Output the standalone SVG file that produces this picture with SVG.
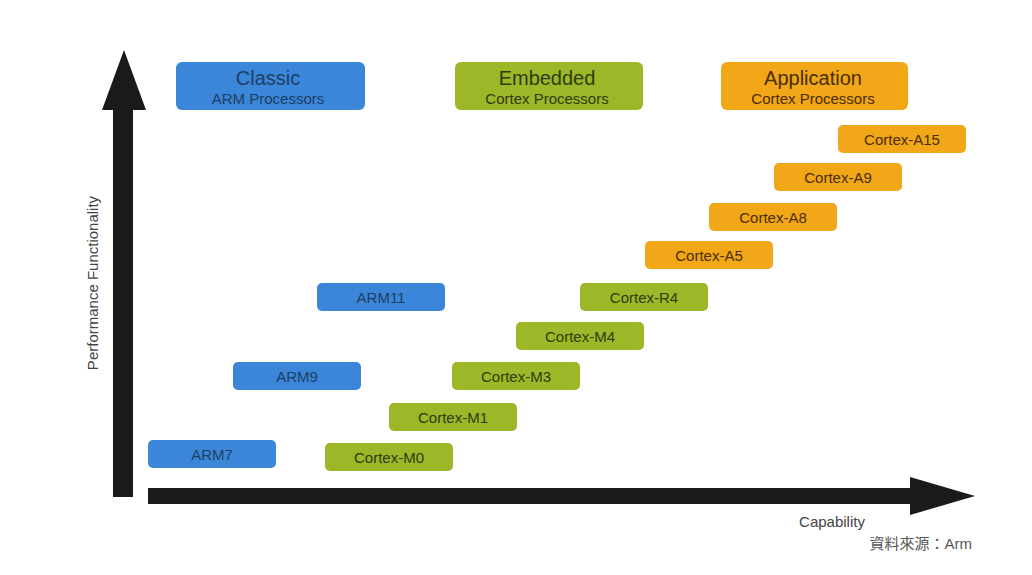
<svg xmlns="http://www.w3.org/2000/svg" width="1032" height="575" viewBox="0 0 1032 575">
<style>
.b{fill:#3b86d8}.g{fill:#9cb728}.o{fill:#f1a717}
text{font-family:"Liberation Sans",Arial,sans-serif;text-anchor:middle}
.t{font-size:15px}
.bt{fill:#1d3f66}.gt{fill:#2f3b0e}.ot{fill:#4a2d00}
.h{font-size:20px}.s{font-size:15px}
</style>
<rect width="1032" height="575" fill="#fff"/>
<g id="connectors" fill="#1a1a1a">
<path d="M113 497 V110 H102 L124 50 L146 110 H133 V497 Z"/>
<path d="M148 488 H910 V477 L975 496 L910 515 V504 H148 Z"/>
</g>
<g id="hdr-classic"><rect class="b" x="176" y="62" width="189" height="48" rx="6"/><text class="bt h" x="268" y="85">Classic</text><text class="bt s" x="268" y="104">ARM Processors</text></g>
<g id="hdr-embedded"><rect class="g" x="455" y="62" width="188" height="48" rx="6"/><text class="gt h" x="547" y="85">Embedded</text><text class="gt s" x="547" y="104">Cortex Processors</text></g>
<g id="hdr-application"><rect class="o" x="721" y="62" width="187" height="48" rx="6"/><text class="ot h" x="813" y="85">Application</text><text class="ot s" x="813" y="104">Cortex Processors</text></g>
<g id="arm7"><rect class="b" x="148" y="440" width="128" height="28" rx="5"/><text class="bt t" x="212" y="460">ARM7</text></g>
<g id="arm9"><rect class="b" x="233" y="362" width="128" height="28" rx="5"/><text class="bt t" x="297" y="382">ARM9</text></g>
<g id="arm11"><rect class="b" x="317" y="283" width="128" height="28" rx="5"/><text class="bt t" x="381" y="303">ARM11</text></g>
<g id="m0"><rect class="g" x="325" y="443" width="128" height="28" rx="5"/><text class="gt t" x="389" y="463">Cortex-M0</text></g>
<g id="m1"><rect class="g" x="389" y="403" width="128" height="28" rx="5"/><text class="gt t" x="453" y="423">Cortex-M1</text></g>
<g id="m3"><rect class="g" x="452" y="362" width="128" height="28" rx="5"/><text class="gt t" x="516" y="382">Cortex-M3</text></g>
<g id="m4"><rect class="g" x="516" y="322" width="128" height="28" rx="5"/><text class="gt t" x="580" y="342">Cortex-M4</text></g>
<g id="r4"><rect class="g" x="580" y="283" width="128" height="28" rx="5"/><text class="gt t" x="644" y="303">Cortex-R4</text></g>
<g id="a5"><rect class="o" x="645" y="241" width="128" height="28" rx="5"/><text class="ot t" x="709" y="261">Cortex-A5</text></g>
<g id="a8"><rect class="o" x="709" y="203" width="128" height="28" rx="5"/><text class="ot t" x="773" y="223">Cortex-A8</text></g>
<g id="a9"><rect class="o" x="774" y="163" width="128" height="28" rx="5"/><text class="ot t" x="838" y="183">Cortex-A9</text></g>
<g id="a15"><rect class="o" x="838" y="125" width="128" height="28" rx="5"/><text class="ot t" x="902" y="145">Cortex-A15</text></g>
<text x="98" y="283" font-size="15" fill="#444" transform="rotate(-90 98 283)">Performance Functionality</text>
<text x="832" y="527" font-size="15" fill="#444">Capability</text>
<text x="972" y="549" font-size="15" fill="#555" style="text-anchor:end;font-family:'Liberation Sans','Noto Sans CJK TC',sans-serif">資料來源：Arm</text>
</svg>
